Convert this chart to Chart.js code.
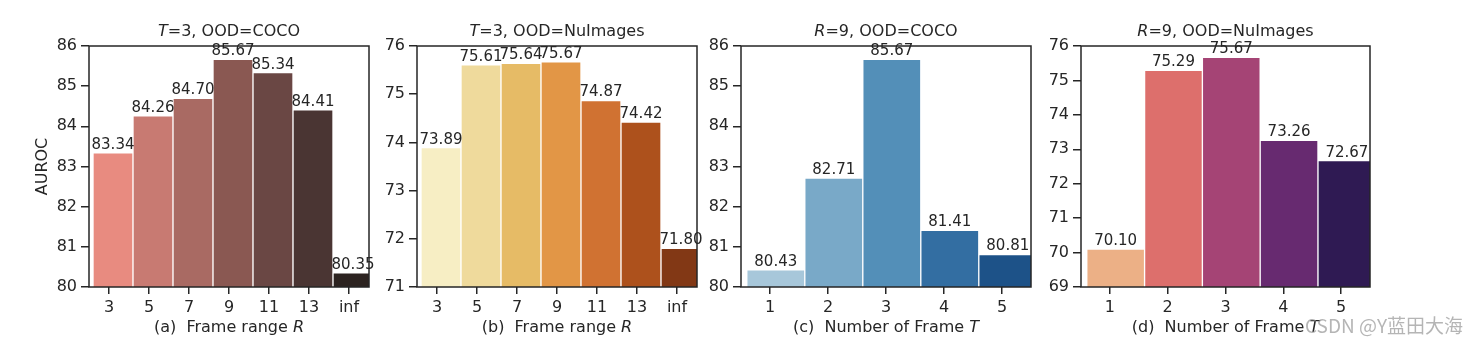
<!DOCTYPE html>
<html>
<head>
<meta charset="utf-8">
<script src="https://cdn.jsdelivr.net/npm/chart.js@4.4.1/dist/chart.umd.min.js"></script>
<style>
  body { margin: 0; background: #fff; }
  #lienzo { position: relative; width: 1479px; height: 344px; overflow: hidden; }
  #lienzo canvas { position: absolute; top: 0; }
  .marca { position: absolute; left: 1305px; top: 311px; z-index: 2; font: 19px 'Noto Sans CJK SC'; line-height: 28px; color: rgba(150, 150, 150, 0.7); white-space: nowrap; }
</style>
</head>
<body>
<div id="lienzo"><div class="marca">CSDN @Y蓝田大海</div></div>
<script>
//* categorias del eje x
const rangosR = ["3", "5", "7", "9", "11", "13", "inf"];
const numFrames = ["1", "2", "3", "4", "5"];

//* valores AUROC de cada panel
const aurocCocoR = [83.34, 84.26, 84.7, 85.67, 85.34, 84.41, 80.35];
const aurocNuImagesR = [73.89, 75.61, 75.64, 75.67, 74.87, 74.42, 71.8];
const aurocCocoT = [80.43, 82.71, 85.67, 81.41, 80.81];
const aurocNuImagesT = [70.1, 75.29, 75.67, 73.26, 72.67];

//* limites del eje y (min, max)
const ejeYa = [80, 86];
const ejeYb = [71, 76];
const ejeYc = [80, 86];
const ejeYd = [69, 76];

//* paletas de colores
const coloresA = ["#e88b80", "#c87a72", "#a96a63", "#8a5852", "#6a4744", "#4a3533", "#2c2320"];
const coloresB = ["#f7eec4", "#efda9c", "#e6bb66", "#e29646", "#d07232", "#ad511c", "#823815"];
const coloresC = ["#a7c7da", "#79a9c8", "#538fb8", "#336ea2", "#1d5288"];
const coloresD = ["#ecb086", "#dd6f6c", "#a54475", "#672a70", "#2f1a53"];

const tinta = "#262626";
const fuente = "'DejaVu Sans'";

//* configuracion de cada panel (posicion del area de dibujo en la pagina)
const paneles = [
  { izq: 89, der: 369, etiquetas: rangosR, valores: aurocCocoR, colores: coloresA, ejeY: ejeYa,
    titulo: [["T", true], ["=3, OOD=COCO", false]],
    xlabel: [["(a)  Frame range ", false], ["R", true]], ylabel: "AUROC" },
  { izq: 417, der: 697, etiquetas: rangosR, valores: aurocNuImagesR, colores: coloresB, ejeY: ejeYb,
    titulo: [["T", true], ["=3, OOD=NuImages", false]],
    xlabel: [["(b)  Frame range ", false], ["R", true]] },
  { izq: 741, der: 1031, etiquetas: numFrames, valores: aurocCocoT, colores: coloresC, ejeY: ejeYc,
    titulo: [["R", true], ["=9, OOD=COCO", false]],
    xlabel: [["(c)  Number of Frame ", false], ["T", true]] },
  { izq: 1081, der: 1370, etiquetas: numFrames, valores: aurocNuImagesT, colores: coloresD, ejeY: ejeYd,
    titulo: [["R", true], ["=9, OOD=NuImages", false]],
    xlabel: [["(d)  Number of Frame ", false], ["T", true]] },
];

const margenIzq = 75;
const margenDer = 25;

//* Función para escribir un texto con partes en cursiva, centrado en (cx, cy)
function textoMixto(ctx, partes, cx, cy, size) {
  let ancho = 0;
  for (const [txt, cursiva] of partes) {
    ctx.font = `${cursiva ? "italic " : ""}${size}px ${fuente}`;
    ancho += ctx.measureText(txt).width;
  }
  let x = cx - ancho / 2;
  ctx.textAlign = "left";
  ctx.textBaseline = "middle";
  for (const [txt, cursiva] of partes) {
    ctx.font = `${cursiva ? "italic " : ""}${size}px ${fuente}`;
    ctx.fillText(txt, x, cy);
    x += ctx.measureText(txt).width;
  }
}

//* plugin: marco, valores encima de las barras, titulo y etiquetas de ejes
function crearDecoracion(p) {
  return {
    id: "decoracion",
    afterDatasetsDraw(chart) {
      const { ctx, chartArea } = chart;
      ctx.save();
      ctx.strokeStyle = tinta;
      ctx.lineWidth = 1.5;
      ctx.strokeRect(chartArea.left, chartArea.top, chartArea.right - chartArea.left, chartArea.bottom - chartArea.top);

      ctx.fillStyle = tinta;
      ctx.font = `15px ${fuente}`;
      ctx.textAlign = "center";
      ctx.textBaseline = "alphabetic";
      chart.getDatasetMeta(0).data.forEach((barra, i) => {
        ctx.fillText(p.valores[i].toFixed(2), barra.x, barra.y - 4);
      });

      const centro = (chartArea.left + chartArea.right) / 2;
      textoMixto(ctx, p.titulo, centro, 32, 16);
      textoMixto(ctx, p.xlabel, centro, 328, 16);

      if (p.ylabel) {
        ctx.translate(chartArea.left - 46, (chartArea.top + chartArea.bottom) / 2);
        ctx.rotate(-Math.PI / 2);
        textoMixto(ctx, [[p.ylabel, false]], 0, 0, 16);
      }
      ctx.restore();
    },
  };
}

const lienzo = document.getElementById("lienzo");

for (const p of paneles) {
  const canvas = document.createElement("canvas");
  canvas.width = p.der - p.izq + margenIzq + margenDer;
  canvas.height = 344;
  canvas.style.left = `${p.izq - margenIzq}px`;
  lienzo.appendChild(canvas);

  const n = p.etiquetas.length;

  new Chart(canvas, {
    type: "bar",
    data: {
      labels: p.etiquetas,
      datasets: [
        {
          data: p.valores.map((v, i) => ({ x: i, y: v })),
          xAxisID: "xb",
          yAxisID: "y",
          backgroundColor: p.colores,
          borderColor: "rgba(255,255,255,0.85)",
          borderWidth: 1,
          barPercentage: 1,
          categoryPercentage: 1,
          clip: 0,
        },
      ],
    },
    options: {
      responsive: false,
      animation: false,
      devicePixelRatio: 1,
      layout: { padding: { top: 46, right: margenDer, left: 0, bottom: 0 } },
      plugins: { legend: { display: false }, tooltip: { enabled: false } },
      scales: {
        x: {
          type: "category",
          offset: true,
          grid: { display: true, offset: false, drawOnChartArea: false, drawTicks: true, tickLength: 7, color: tinta, lineWidth: 1.5 },
          border: { display: false },
          ticks: { color: tinta, font: { family: "DejaVu Sans", size: 16 }, padding: 4, maxRotation: 0, autoSkip: false },
          afterFit(s) { s.height = 57; },
        },
        //* eje oculto para las barras, desplazadas un poco a la derecha de las marcas
        xb: { type: "linear", axis: "x", display: false, offset: false, min: -0.6, max: n - 0.6 },
        y: {
          type: "linear",
          min: p.ejeY[0],
          max: p.ejeY[1],
          grid: { display: true, drawOnChartArea: false, drawTicks: true, tickLength: 8, color: tinta, lineWidth: 1.5 },
          border: { display: false },
          ticks: { stepSize: 1, color: tinta, font: { family: "DejaVu Sans", size: 16 }, padding: 4 },
          afterFit(s) { s.width = margenIzq; },
        },
      },
    },
    plugins: [crearDecoracion(p)],
  });
}
</script>
</body>
</html>
